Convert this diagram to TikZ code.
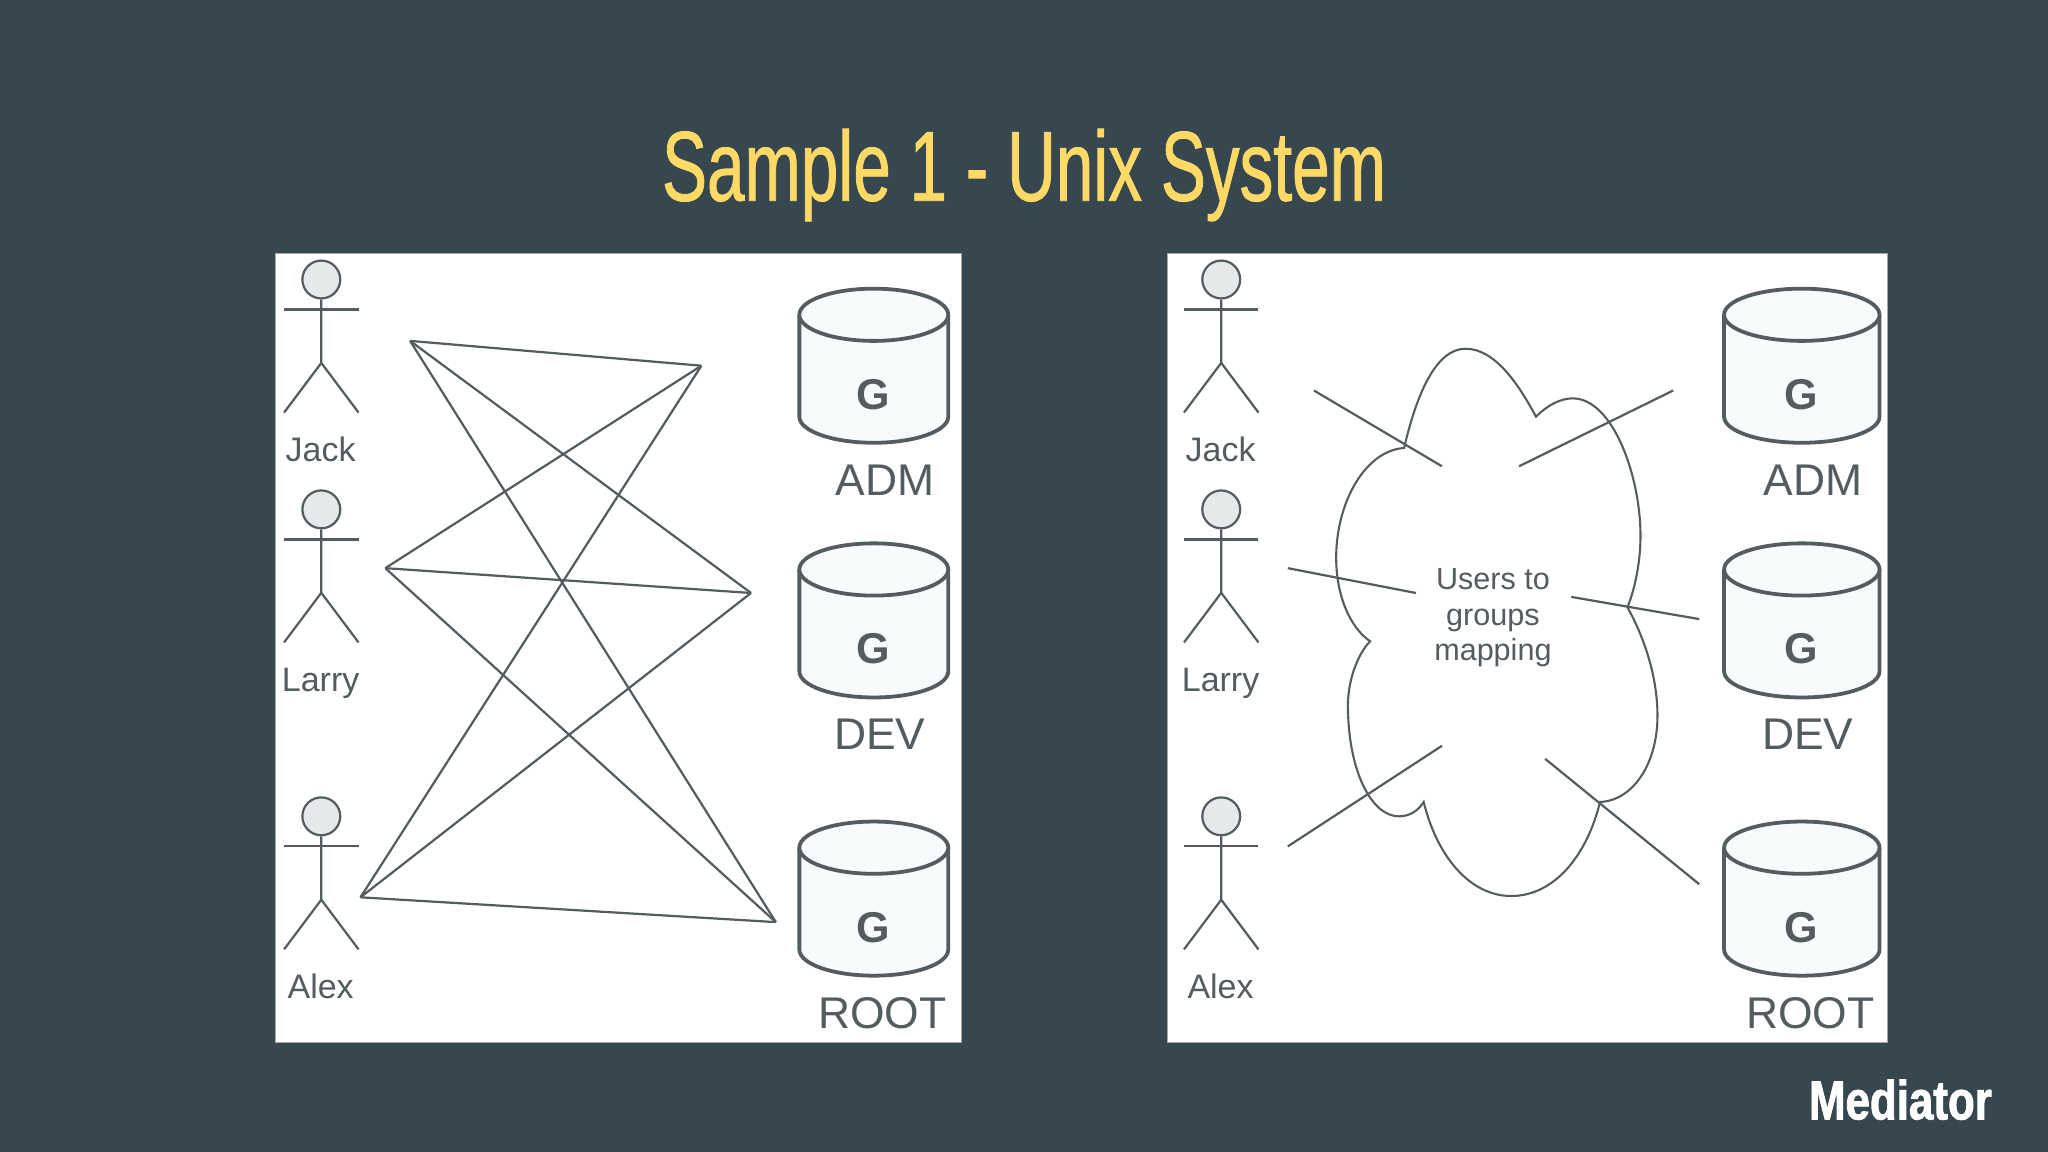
\documentclass[tikz,border=0pt]{standalone}
\usepackage{fontspec}
\setmainfont{Liberation Sans}
\newfontfamily\titlefont[FakeStretch=0.68, FakeBold=0.8]{Liberation Sans}
\newfontfamily\brandfont[FakeStretch=0.8, FakeBold=1.5]{Liberation Sans Bold}
\definecolor{slide}{HTML}{37474F}
\definecolor{gold}{HTML}{FFD966}
\definecolor{ink}{HTML}{555C60}
\definecolor{drumfill}{HTML}{F7FBFB}
\definecolor{headfill}{HTML}{E6E9EA}
\tikzstyle{stick}=[draw=ink, line width=1.7pt]
\tikzstyle{head}=[circle, draw=ink, fill=headfill, line width=1.7pt, minimum size=29pt, inner sep=0pt]
\tikzstyle{who}=[text=ink, anchor=base, font=\fontsize{26}{28}\selectfont]
\tikzstyle{drum}=[draw=ink, fill=drumfill, line width=2.9pt]
\tikzstyle{grp}=[text=ink, font=\fontsize{34}{36}\selectfont]
\tikzstyle{link}=[draw=ink, line width=1.7pt]
\begin{document}
\begin{tikzpicture}[x=1pt, y=-1pt]
      \useasboundingbox (0,0) rectangle (1568,882);
      \fill[slide] (0,0) rectangle (1568,882);

      \node[text=gold, font=\titlefont\fontsize{76}{80}\selectfont] (title) at (784,134) {Sample 1 - Unix System};
      \node[text=white, font=\brandfont\fontsize{42}{44}\selectfont] (brand) at (1455,842) {Mediator};

      \draw[fill=white, draw=black!35, line width=1pt] (211,194) rectangle (736,798);
      \draw[fill=white, draw=black!35, line width=1pt] (894,194) rectangle (1445,798);

      % people
      \foreach \ax/\side in {246/l, 935/r}{
        \foreach \ay/\name in {214/Jack, 390/Larry, 625/Alex}{
          \node[head] (\side\name) at (\ax,\ay) {};
          \draw[stick] (\side\name.south) -- ++(0,48.5) coordinate (\side\name hip)
              -- ++(-28.5,38);
          \draw[stick] (\side\name hip) -- ++(28.5,38);
          \draw[stick] (\ax-28.5,\ay+23) -- (\ax+28.5,\ay+23);
          \node[who] (\side\name label) at (\ax-.5,\ay+139.5) {\name};
        }
      }

      % groups
      \foreach \cx/\rx/\side in {669/57/l, 1379.5/59.5/r}{
        \foreach \ty/\shift/\name in {221/8.5/ADM, 416/4.5/DEV, 629/6.5/ROOT}{
          \draw[drum] (\cx-\rx,\ty+20) -- (\cx-\rx,\ty+98)
              arc[start angle=180, end angle=360, x radius=\rx pt, y radius=20pt]
              -- (\cx+\rx,\ty+20);
          \draw[drum] (\cx,\ty+20) ellipse[x radius=\rx pt, y radius=20pt];
          \node[text=ink, font=\bfseries\fontsize{33}{35}\selectfont] (\side\name G) at (\cx-.5,\ty+81) {G};
          \node[grp] (\side\name label) at (\cx+\shift,\ty+146.5) {\name};
        }
      }

      % left panel, everybody to everything
      \coordinate (jackEnd) at (314,261);
      \coordinate (larryEnd) at (295,435);
      \coordinate (alexEnd) at (276,687);
      \coordinate (admEnd) at (537,280);
      \coordinate (devEnd) at (575,454);
      \coordinate (rootEnd) at (594,706);
      \foreach \u in {jackEnd, larryEnd, alexEnd}{
        \foreach \g in {admEnd, devEnd, rootEnd}{
          \draw[link] (\u) -- (\g);
        }
      }

      % right panel, cloud in the middle
      \draw[draw=ink, line width=1.6pt, fill=white] (1075,343)
          .. controls (1085,300) and (1100,267) .. (1122,267)
          .. controls (1145,267) and (1163,295) .. (1176,319)
          .. controls (1185,310) and (1195,305) .. (1204,305)
          .. controls (1235,305) and (1256,365) .. (1256,410)
          .. controls (1256,430) and (1252,450) .. (1246,465)
          .. controls (1260,490) and (1269,520) .. (1269,548)
          .. controls (1269,585) and (1250,613) .. (1225,614)
          .. controls (1215,655) and (1190,686) .. (1157,686)
          .. controls (1125,686) and (1100,655) .. (1090,614)
          .. controls (1085,622) and (1078,625) .. (1071,625)
          .. controls (1050,625) and (1032,590) .. (1032,540)
          .. controls (1032,520) and (1040,500) .. (1049,491)
          .. controls (1033,480) and (1023,455) .. (1023,427)
          .. controls (1023,385) and (1045,345) .. (1075,343) -- cycle;
      \node[text=ink, align=center, font=\fontsize{23.4}{27}\selectfont] (mapping) at (1143,473) {Users to\\groups\\mapping};

      \foreach \name/\ax/\ay/\bx/\by in {jack/1006/299/1104/357, larry/986/435/1084/454,
          alex/986/648/1104/571, adm/1281/299/1163/357, dev/1301/474/1203/457, root/1301/677/1183/581}{
        \coordinate (\name Out) at (\ax,\ay);
        \coordinate (\name In) at (\bx,\by);
        \draw[link] (\name Out) -- (\name In);
      }
\end{tikzpicture}
\end{document}
